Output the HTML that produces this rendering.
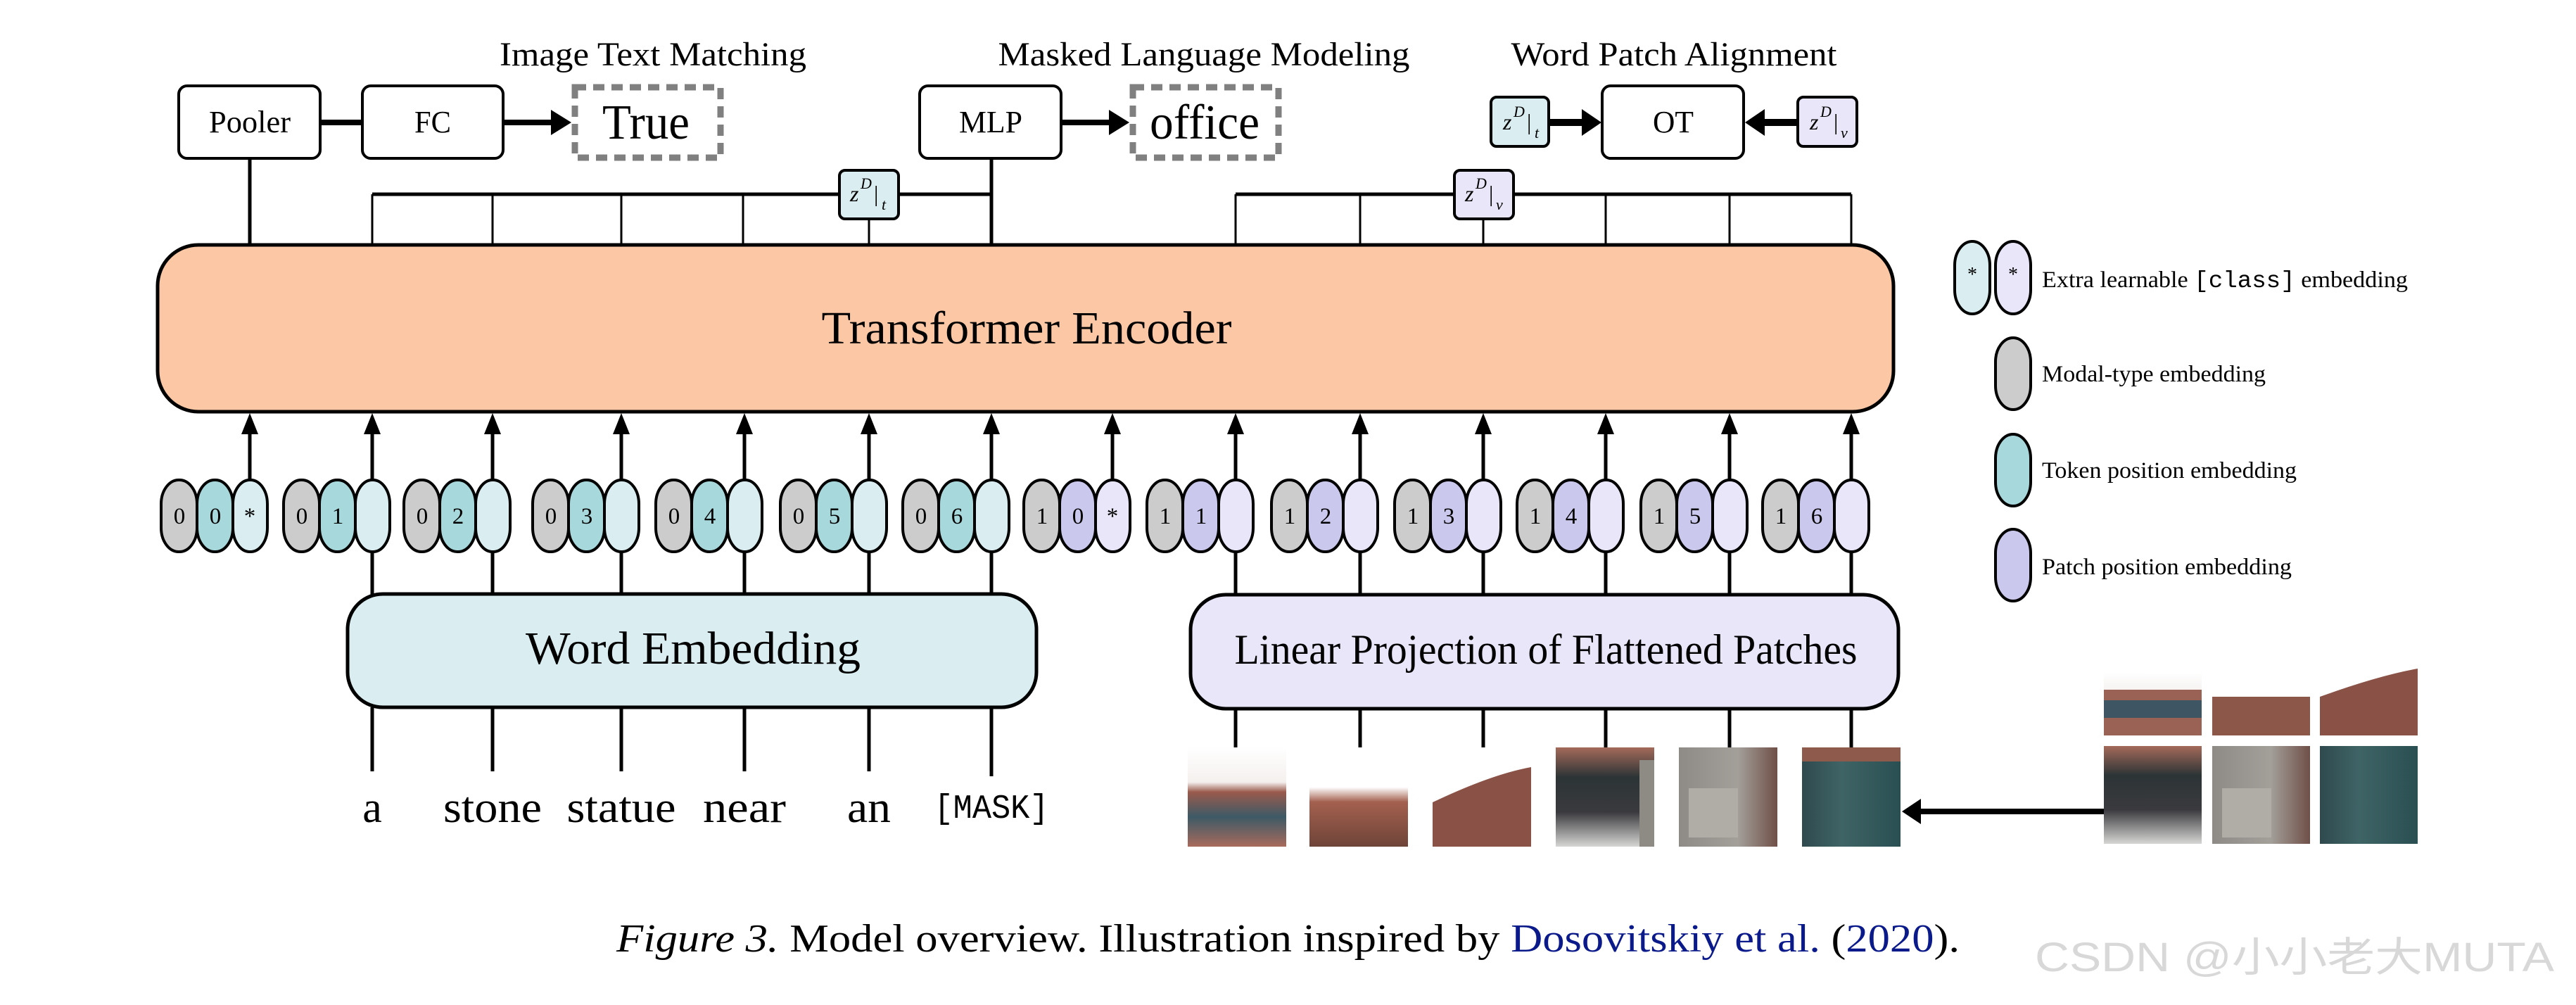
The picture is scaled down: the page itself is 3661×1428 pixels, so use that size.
<!DOCTYPE html>
<html><head><meta charset="utf-8">
<style>
html,body{margin:0;padding:0;background:#fff;}
svg{display:block;}
svg text{font-family:"Liberation Serif","Times New Roman",Times,serif;}
svg text.mono, svg tspan.mono{font-family:"Liberation Mono","Courier New",monospace;}
svg text.wm{font-family:"Liberation Sans","Noto Sans CJK SC",sans-serif;}
</style></head>
<body>
<svg width="3661" height="1428" viewBox="0 0 3661 1428" xmlns="http://www.w3.org/2000/svg" font-family="Liberation Serif, Times New Roman, serif">
<defs>
<linearGradient id="bld" x1="0" y1="0" x2="0" y2="1"><stop offset="0" stop-color="#ffffff"/><stop offset="0.35" stop-color="#f4f0ee"/><stop offset="0.45" stop-color="#9a5a4c"/><stop offset="0.7" stop-color="#3d5a66"/><stop offset="1" stop-color="#a86a5c"/></linearGradient>
<linearGradient id="bld2" x1="0" y1="0" x2="0" y2="1"><stop offset="0" stop-color="#ffffff"/><stop offset="0.4" stop-color="#ffffff"/><stop offset="0.55" stop-color="#a4604f"/><stop offset="1" stop-color="#6e4438"/></linearGradient>
<linearGradient id="door" x1="0" y1="0" x2="0" y2="1"><stop offset="0" stop-color="#a46a5a"/><stop offset="0.3" stop-color="#2c3436"/><stop offset="0.65" stop-color="#3a3a3e"/><stop offset="1" stop-color="#d6d6d4"/></linearGradient>
<linearGradient id="stat" x1="0" y1="0" x2="1" y2="0"><stop offset="0" stop-color="#8e8a86"/><stop offset="0.6" stop-color="#a39f99"/><stop offset="1" stop-color="#6f5048"/></linearGradient>
<linearGradient id="glass" x1="0" y1="0" x2="1" y2="0"><stop offset="0" stop-color="#2f4a4f"/><stop offset="0.4" stop-color="#3f6466"/><stop offset="1" stop-color="#2a4f52"/></linearGradient>
</defs>

<!-- Titles -->
<text x="928" y="93" font-size="48" text-anchor="middle" textLength="436" lengthAdjust="spacingAndGlyphs">Image Text Matching</text>
<text x="1711" y="93" font-size="48" text-anchor="middle" textLength="585" lengthAdjust="spacingAndGlyphs">Masked Language Modeling</text>
<text x="2379" y="93" font-size="48" text-anchor="middle" textLength="463" lengthAdjust="spacingAndGlyphs">Word Patch Alignment</text>

<g stroke="#000" stroke-width="4" fill="#fff">
<rect x="254" y="122" width="201" height="103" rx="12"/>
<rect x="515" y="122" width="200" height="103" rx="12"/>
<rect x="1307" y="122" width="201" height="103" rx="12"/>
<rect x="2277" y="122" width="201" height="103" rx="12"/>
</g>
<text x="355" y="188" font-size="44" text-anchor="middle" textLength="116" lengthAdjust="spacingAndGlyphs">Pooler</text>
<text x="615" y="188" font-size="44" text-anchor="middle" textLength="52" lengthAdjust="spacingAndGlyphs">FC</text>
<text x="1408" y="188" font-size="44" text-anchor="middle" textLength="90" lengthAdjust="spacingAndGlyphs">MLP</text>
<text x="2378" y="188" font-size="44" text-anchor="middle" textLength="58" lengthAdjust="spacingAndGlyphs">OT</text>
<line x1="455" y1="174" x2="515" y2="174" stroke="#000" stroke-width="8"/>
<line x1="715" y1="174" x2="785" y2="174" stroke="#000" stroke-width="8"/>
<polygon points="783,156 812,174 783,192" fill="#000"/>
<line x1="1508" y1="174" x2="1578" y2="174" stroke="#000" stroke-width="8"/>
<polygon points="1576,156 1605,174 1576,192" fill="#000"/>
<rect x="817" y="124" width="207" height="100" fill="none" stroke="#808080" stroke-width="9" stroke-dasharray="16,10"/>
<rect x="1610" y="124" width="207" height="100" fill="none" stroke="#808080" stroke-width="9" stroke-dasharray="16,10"/>
<text x="918" y="197" font-size="70" text-anchor="middle" textLength="124" lengthAdjust="spacingAndGlyphs">True</text>
<text x="1712" y="197" font-size="70" text-anchor="middle" textLength="156" lengthAdjust="spacingAndGlyphs">office</text>

<rect x="2119" y="138" width="82" height="70" rx="8" fill="#daeef1" stroke="#000" stroke-width="4"/>
<rect x="2555" y="138" width="84" height="70" rx="8" fill="#e8e6f8" stroke="#000" stroke-width="4"/>
<text x="2136" y="184" font-size="32" font-style="italic">z</text><text x="2151" y="166" font-size="22" font-style="italic">D</text><text x="2170" y="184" font-size="32">|</text><text x="2181" y="196" font-size="22" font-style="italic">t</text>
<text x="2572" y="184" font-size="32" font-style="italic">z</text><text x="2587" y="166" font-size="22" font-style="italic">D</text><text x="2606" y="184" font-size="32">|</text><text x="2616" y="196" font-size="22" font-style="italic">v</text>
<line x1="2201" y1="174" x2="2250" y2="174" stroke="#000" stroke-width="10"/>
<polygon points="2248,155 2276,174 2248,193" fill="#000"/>
<line x1="2555" y1="174" x2="2506" y2="174" stroke="#000" stroke-width="10"/>
<polygon points="2508,155 2480,174 2508,193" fill="#000"/>

<g stroke="#000" stroke-width="3">
<line x1="529" y1="276" x2="529" y2="350"/><line x1="700" y1="276" x2="700" y2="350"/><line x1="883" y1="276" x2="883" y2="350"/><line x1="1056" y1="276" x2="1056" y2="350"/><line x1="1235" y1="310" x2="1235" y2="350"/>
<line x1="1756" y1="276" x2="1756" y2="350"/><line x1="1933" y1="276" x2="1933" y2="350"/><line x1="2108" y1="310" x2="2108" y2="350"/><line x1="2282" y1="276" x2="2282" y2="350"/><line x1="2458" y1="276" x2="2458" y2="350"/><line x1="2631" y1="276" x2="2631" y2="350"/>
</g>
<line x1="529" y1="276" x2="1409" y2="276" stroke="#000" stroke-width="5"/>
<line x1="1756" y1="276" x2="2631" y2="276" stroke="#000" stroke-width="5"/>
<line x1="355" y1="225" x2="355" y2="350" stroke="#000" stroke-width="5"/>
<line x1="1409" y1="225" x2="1409" y2="350" stroke="#000" stroke-width="5"/>
<rect x="1193" y="242" width="84" height="69" rx="8" fill="#daeef1" stroke="#000" stroke-width="4"/>
<text x="1208" y="286" font-size="32" font-style="italic">z</text><text x="1223" y="268" font-size="22" font-style="italic">D</text><text x="1242" y="286" font-size="32">|</text><text x="1253" y="298" font-size="22" font-style="italic">t</text>
<rect x="2067" y="242" width="84" height="69" rx="8" fill="#e8e6f8" stroke="#000" stroke-width="4"/>
<text x="2082" y="286" font-size="32" font-style="italic">z</text><text x="2097" y="268" font-size="22" font-style="italic">D</text><text x="2116" y="286" font-size="32">|</text><text x="2126" y="298" font-size="22" font-style="italic">v</text>

<rect x="224" y="348" width="2467" height="237" rx="58" fill="#fbc7a4" stroke="#000" stroke-width="5"/>
<text x="1459" y="488" font-size="66" text-anchor="middle" textLength="583" lengthAdjust="spacingAndGlyphs">Transformer Encoder</text>

<g stroke="#000" stroke-width="5">
<line x1="355" y1="681" x2="355" y2="610"/><line x1="529" y1="681" x2="529" y2="610"/><line x1="700" y1="681" x2="700" y2="610"/><line x1="883" y1="681" x2="883" y2="610"/><line x1="1058" y1="681" x2="1058" y2="610"/><line x1="1235" y1="681" x2="1235" y2="610"/><line x1="1409" y1="681" x2="1409" y2="610"/><line x1="1581" y1="681" x2="1581" y2="610"/><line x1="1756" y1="681" x2="1756" y2="610"/><line x1="1933" y1="681" x2="1933" y2="610"/><line x1="2108" y1="681" x2="2108" y2="610"/><line x1="2282" y1="681" x2="2282" y2="610"/><line x1="2458" y1="681" x2="2458" y2="610"/><line x1="2631" y1="681" x2="2631" y2="610"/>
</g>
<g fill="#000">
<polygon points="355,587 343,617 367,617"/><polygon points="529,587 517,617 541,617"/><polygon points="700,587 688,617 712,617"/><polygon points="883,587 871,617 895,617"/><polygon points="1058,587 1046,617 1070,617"/><polygon points="1235,587 1223,617 1247,617"/><polygon points="1409,587 1397,617 1421,617"/><polygon points="1581,587 1569,617 1593,617"/><polygon points="1756,587 1744,617 1768,617"/><polygon points="1933,587 1921,617 1945,617"/><polygon points="2108,587 2096,617 2120,617"/><polygon points="2282,587 2270,617 2294,617"/><polygon points="2458,587 2446,617 2470,617"/><polygon points="2631,587 2619,617 2643,617"/>
</g>
<g stroke="#000" stroke-width="4">
<g fill="#cccccc">
<rect x="229" y="682" width="51" height="102" rx="25" ry="34"/><rect x="403" y="682" width="51" height="102" rx="25" ry="34"/><rect x="574" y="682" width="51" height="102" rx="25" ry="34"/><rect x="757" y="682" width="51" height="102" rx="25" ry="34"/><rect x="932" y="682" width="51" height="102" rx="25" ry="34"/><rect x="1109" y="682" width="51" height="102" rx="25" ry="34"/><rect x="1283" y="682" width="51" height="102" rx="25" ry="34"/><rect x="1455" y="682" width="51" height="102" rx="25" ry="34"/><rect x="1630" y="682" width="51" height="102" rx="25" ry="34"/><rect x="1807" y="682" width="51" height="102" rx="25" ry="34"/><rect x="1982" y="682" width="51" height="102" rx="25" ry="34"/><rect x="2156" y="682" width="51" height="102" rx="25" ry="34"/><rect x="2332" y="682" width="51" height="102" rx="25" ry="34"/><rect x="2505" y="682" width="51" height="102" rx="25" ry="34"/>
</g>
<g fill="#a6d8dc">
<rect x="280" y="682" width="51" height="102" rx="25" ry="34"/><rect x="454" y="682" width="51" height="102" rx="25" ry="34"/><rect x="625" y="682" width="51" height="102" rx="25" ry="34"/><rect x="808" y="682" width="51" height="102" rx="25" ry="34"/><rect x="983" y="682" width="51" height="102" rx="25" ry="34"/><rect x="1160" y="682" width="51" height="102" rx="25" ry="34"/><rect x="1334" y="682" width="51" height="102" rx="25" ry="34"/>
</g>
<g fill="#cbc8ee">
<rect x="1506" y="682" width="51" height="102" rx="25" ry="34"/><rect x="1681" y="682" width="51" height="102" rx="25" ry="34"/><rect x="1858" y="682" width="51" height="102" rx="25" ry="34"/><rect x="2033" y="682" width="51" height="102" rx="25" ry="34"/><rect x="2207" y="682" width="51" height="102" rx="25" ry="34"/><rect x="2383" y="682" width="51" height="102" rx="25" ry="34"/><rect x="2556" y="682" width="51" height="102" rx="25" ry="34"/>
</g>
<g fill="#daeef1">
<rect x="331" y="682" width="49" height="102" rx="24" ry="34"/><rect x="505" y="682" width="49" height="102" rx="24" ry="34"/><rect x="676" y="682" width="49" height="102" rx="24" ry="34"/><rect x="859" y="682" width="49" height="102" rx="24" ry="34"/><rect x="1034" y="682" width="49" height="102" rx="24" ry="34"/><rect x="1211" y="682" width="49" height="102" rx="24" ry="34"/><rect x="1385" y="682" width="49" height="102" rx="24" ry="34"/>
</g>
<g fill="#e8e6f8">
<rect x="1557" y="682" width="49" height="102" rx="24" ry="34"/><rect x="1732" y="682" width="49" height="102" rx="24" ry="34"/><rect x="1909" y="682" width="49" height="102" rx="24" ry="34"/><rect x="2084" y="682" width="49" height="102" rx="24" ry="34"/><rect x="2258" y="682" width="49" height="102" rx="24" ry="34"/><rect x="2434" y="682" width="49" height="102" rx="24" ry="34"/><rect x="2607" y="682" width="49" height="102" rx="24" ry="34"/>
</g>
</g>
<g font-size="33" text-anchor="middle">
<text x="255" y="744">0</text><text x="306" y="744">0</text><text x="355" y="744">*</text>
<text x="429" y="744">0</text><text x="480" y="744">1</text>
<text x="600" y="744">0</text><text x="651" y="744">2</text>
<text x="783" y="744">0</text><text x="834" y="744">3</text>
<text x="958" y="744">0</text><text x="1009" y="744">4</text>
<text x="1135" y="744">0</text><text x="1186" y="744">5</text>
<text x="1309" y="744">0</text><text x="1360" y="744">6</text>
<text x="1481" y="744">1</text><text x="1532" y="744">0</text><text x="1581" y="744">*</text>
<text x="1656" y="744">1</text><text x="1707" y="744">1</text>
<text x="1833" y="744">1</text><text x="1884" y="744">2</text>
<text x="2008" y="744">1</text><text x="2059" y="744">3</text>
<text x="2182" y="744">1</text><text x="2233" y="744">4</text>
<text x="2358" y="744">1</text><text x="2409" y="744">5</text>
<text x="2531" y="744">1</text><text x="2582" y="744">6</text>
</g>

<g stroke="#000" stroke-width="5">
<line x1="529" y1="784" x2="529" y2="845"/><line x1="700" y1="784" x2="700" y2="845"/><line x1="883" y1="784" x2="883" y2="845"/><line x1="1058" y1="784" x2="1058" y2="845"/><line x1="1235" y1="784" x2="1235" y2="845"/><line x1="1409" y1="784" x2="1409" y2="845"/>
<line x1="1756" y1="784" x2="1756" y2="845"/><line x1="1933" y1="784" x2="1933" y2="845"/><line x1="2108" y1="784" x2="2108" y2="845"/><line x1="2282" y1="784" x2="2282" y2="845"/><line x1="2458" y1="784" x2="2458" y2="845"/><line x1="2631" y1="784" x2="2631" y2="845"/>
<line x1="529" y1="1005" x2="529" y2="1096"/><line x1="700" y1="1005" x2="700" y2="1096"/><line x1="883" y1="1005" x2="883" y2="1096"/><line x1="1058" y1="1005" x2="1058" y2="1096"/><line x1="1235" y1="1005" x2="1235" y2="1096"/><line x1="1409" y1="1005" x2="1409" y2="1103"/>
<line x1="1756" y1="1007" x2="1756" y2="1062"/><line x1="1933" y1="1007" x2="1933" y2="1062"/><line x1="2108" y1="1007" x2="2108" y2="1062"/><line x1="2282" y1="1007" x2="2282" y2="1062"/><line x1="2458" y1="1007" x2="2458" y2="1062"/><line x1="2631" y1="1007" x2="2631" y2="1062"/>
</g>
<rect x="494" y="844" width="979" height="161" rx="50" fill="#daeef1" stroke="#000" stroke-width="5"/>
<text x="985" y="943" font-size="66" text-anchor="middle" textLength="476" lengthAdjust="spacingAndGlyphs">Word Embedding</text>
<rect x="1692" y="845" width="1006" height="162" rx="50" fill="#e8e6f8" stroke="#000" stroke-width="5"/>
<text x="2197" y="943" font-size="60" text-anchor="middle" textLength="885" lengthAdjust="spacingAndGlyphs">Linear Projection of Flattened Patches</text>

<g font-size="62" text-anchor="middle">
<text x="529" y="1168">a</text>
<text x="700" y="1168" textLength="140" lengthAdjust="spacingAndGlyphs">stone</text>
<text x="883" y="1168" textLength="155" lengthAdjust="spacingAndGlyphs">statue</text>
<text x="1058" y="1168" textLength="118" lengthAdjust="spacingAndGlyphs">near</text>
<text x="1235" y="1168" textLength="62" lengthAdjust="spacingAndGlyphs">an</text>
</g>
<text x="1409" y="1162" font-size="48" text-anchor="middle" class="mono" font-family="Liberation Mono, monospace" textLength="163" lengthAdjust="spacingAndGlyphs">[MASK]</text>

<rect x="1688" y="1062" width="140" height="141" fill="url(#bld)"/>
<rect x="1861" y="1062" width="140" height="141" fill="url(#bld2)"/>
<rect x="2036" y="1062" width="140" height="141" fill="#fff"/>
<path d="M2036 1140 Q2120 1100 2176 1090 L2176 1203 L2036 1203Z" fill="#8a5246"/>
<rect x="2211" y="1062" width="140" height="141" fill="url(#door)"/>
<rect x="2330" y="1080" width="21" height="123" fill="#8e8a84"/>
<rect x="2386" y="1062" width="140" height="141" fill="url(#stat)"/>
<rect x="2400" y="1120" width="70" height="70" fill="#b0aca6"/>
<rect x="2561" y="1062" width="140" height="141" fill="url(#glass)"/>
<rect x="2561" y="1062" width="140" height="20" fill="#8d5a4c"/>
<line x1="2990" y1="1153" x2="2728" y2="1153" stroke="#000" stroke-width="8"/>
<polygon points="2730,1135 2703,1153 2730,1171" fill="#000"/>
<rect x="2990" y="955" width="139" height="90" fill="url(#bld)"/>
<rect x="2990" y="980" width="139" height="65" fill="#9a6255"/>
<rect x="2990" y="995" width="139" height="25" fill="#3e5663"/>
<rect x="3144" y="990" width="139" height="55" fill="#8c5648"/>
<path d="M3297 990 Q3380 960 3436 950 L3436 1045 L3297 1045Z" fill="#8a5246"/>
<rect x="2990" y="1060" width="139" height="139" fill="url(#door)"/>
<rect x="3144" y="1060" width="139" height="139" fill="url(#stat)"/>
<rect x="3158" y="1120" width="70" height="70" fill="#b0aca6"/>
<rect x="3297" y="1060" width="139" height="139" fill="url(#glass)"/>

<g stroke="#000" stroke-width="4">
<rect x="2778" y="343" width="50" height="103" rx="25" ry="34" fill="#daeef1"/>
<rect x="2836" y="343" width="50" height="103" rx="25" ry="34" fill="#e8e6f8"/>
<rect x="2836" y="480" width="50" height="102" rx="25" ry="34" fill="#cccccc"/>
<rect x="2836" y="617" width="50" height="102" rx="25" ry="34" fill="#a6d8dc"/>
<rect x="2836" y="752" width="50" height="102" rx="25" ry="34" fill="#cbc8ee"/>
</g>
<text x="2803" y="399" font-size="28" text-anchor="middle">*</text>
<text x="2861" y="399" font-size="28" text-anchor="middle">*</text>
<text x="2902" y="408" font-size="33" textLength="520" lengthAdjust="spacingAndGlyphs">Extra learnable <tspan class="mono" font-family="Liberation Mono, monospace">[class]</tspan> embedding</text>
<text x="2902" y="542" font-size="33" textLength="318" lengthAdjust="spacingAndGlyphs">Modal-type embedding</text>
<text x="2902" y="679" font-size="33" textLength="362" lengthAdjust="spacingAndGlyphs">Token position embedding</text>
<text x="2902" y="816" font-size="33" textLength="355" lengthAdjust="spacingAndGlyphs">Patch position embedding</text>

<text x="876" y="1352" font-size="56" textLength="1909" lengthAdjust="spacingAndGlyphs"><tspan font-style="italic">Figure 3.</tspan> Model overview. Illustration inspired by <tspan fill="#0a1a8a">Dosovitskiy et al.</tspan> (<tspan fill="#0a1a8a">2020</tspan>).</text>
<text class="wm" x="2892" y="1380" font-size="58" fill="#d8d8d8" font-family="Liberation Sans, Noto Sans CJK SC, sans-serif" textLength="738" lengthAdjust="spacingAndGlyphs">CSDN @小小老大MUTA</text>
</svg>
</body></html>
